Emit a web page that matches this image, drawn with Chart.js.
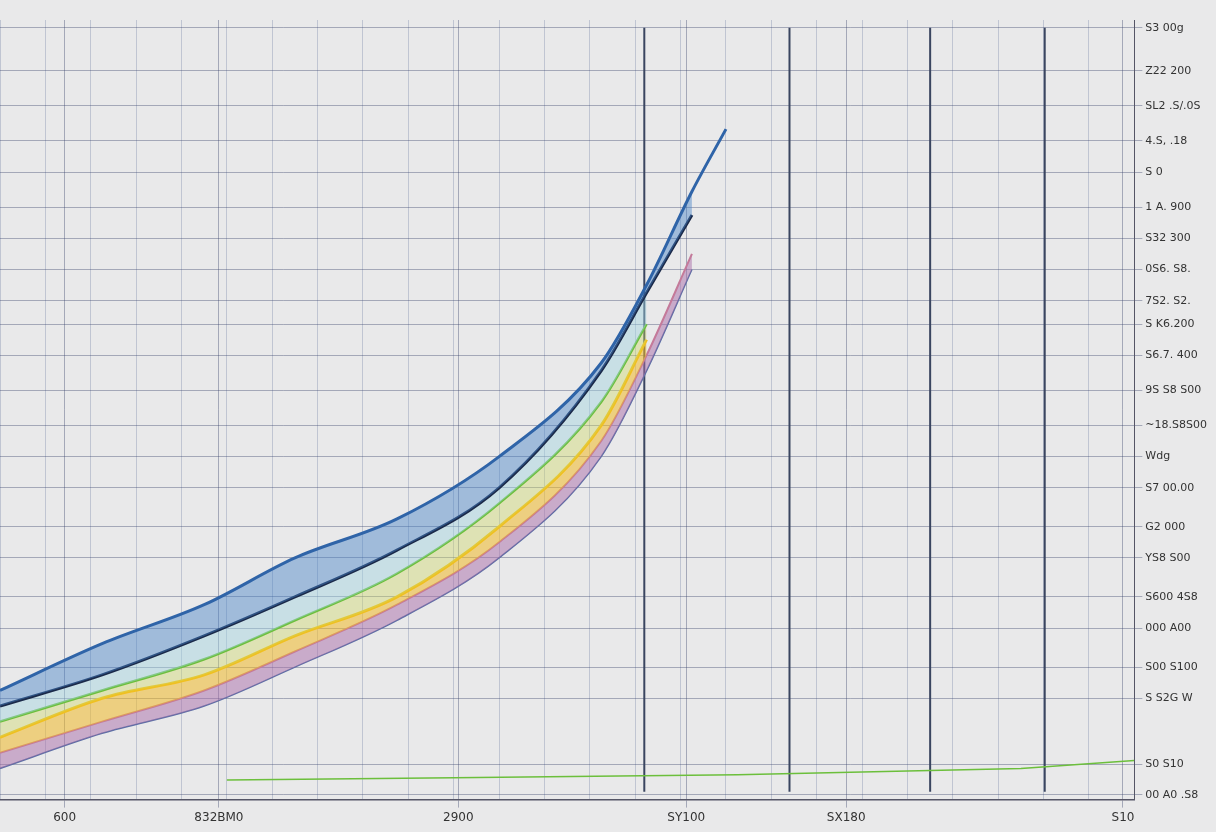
<!DOCTYPE html>
<html>
<head>
<meta charset="utf-8">
<script src="https://cdn.jsdelivr.net/npm/chart.js@4/dist/chart.umd.min.js"></script>
<style>
  html, body { margin: 0; padding: 0; background: #e9e9ea; }
  #wrap { width: 1216px; height: 832px; }
</style>
</head>
<body>
<div id="wrap"><canvas id="growthChart"></canvas></div>
<script>
// x positions of the curve samples
const xs = [0, 9, 18, 26, 35, 44, 53, 57, 61, 64];
const blueTop = [14, 20, 25, 31, 36, 44, 56, 66, 78, 86];
const darkLine = [12, 16, 21, 26, 32, 40, 55, 65, 75];
const greenLine = [10, 14, 18, 23, 29, 38, 51, 61];
const yellowLine = [8, 13, 16, 21, 26, 35, 48, 59];
const pinkLine = [6, 10, 14, 19, 25, 33, 46, 57, 70];
const lowerEdge = [4, 8.5, 12, 17, 23, 31, 44, 55, 68];

const greenBase = [[20, 2.5], [40, 2.8], [65, 3.2], [90, 4], [100, 5]];
const darkVerticals = [56.8, 69.6, 82, 92.1];

const xTickValues = [5.7, 19.3, 40.4, 60.5, 74.6, 99];
const xTickLabels = ["600", "832BM0", "2900", "SY100", "SX180", "S10"];

const yTickValues = [99, 93.5, 89, 84.5, 80.5, 76, 72, 68, 64, 61, 57, 52.5, 48, 44, 40, 35, 31, 26, 22, 17, 13, 4.5, 0.6];
const yTickLabels = ["S3 00g", "Z22 200", "SL2 .S/.0S", "4.S, .18", "S 0", "1 A. 900", "S32 300",
  "0S6. S8.", "7S2. S2.", "S K6.200", "S6.7. 400", "9S S8 S00", "~18.S8S00", "Wdg", "S7 00.00",
  "G2 000", "YS8 S00", "S600 4S8", "000 A00", "S00 S100", "S S2G W", "S0 S10", "00 A0 .S8"];

const pts = (vals) => vals.map((v, i) => ({ x: xs[i], y: v }));

function band(label, data, border, fillColor, width) {
  return {
    label, data: pts(data), borderColor: border, borderWidth: width,
    backgroundColor: fillColor, fill: fillColor ? "+1" : false,
    cubicInterpolationMode: "monotone", pointRadius: 0,
  };
}

const datasets = [
  band("blue", blueTop, "#2f64a8", "rgba(70,130,200,0.45)", 3),
  band("dark", darkLine, "#1b2a4a", "rgba(160,210,225,0.45)", 3),
  band("green", greenLine, "#6cbf3c", "rgba(205,215,100,0.4)", 2.5),
  band("yellow", yellowLine, "#f0c020", "rgba(240,185,40,0.55)", 3),
  band("pink", pinkLine, "#c47a9a", "rgba(170,110,170,0.5)", 2),
  band("lower", lowerEdge, "#5a6fa5", null, 1.5),
  {
    label: "base", data: greenBase.map(([x, y]) => ({ x, y })),
    borderColor: "#6cbf3c", borderWidth: 1.5, pointRadius: 0, fill: false,
  },
];
darkVerticals.forEach((x) => {
  datasets.push({
    label: "v" + x, data: [{ x, y: 1 }, { x, y: 99 }],
    borderColor: "#3a4560", borderWidth: 2, pointRadius: 0, fill: false,
  });
});

new Chart(document.getElementById("growthChart"), {
  type: "line",
  data: { datasets },
  options: {
    responsive: true,
    maintainAspectRatio: false,
    animation: false,
    layout: { padding: { top: 20, right: 6, bottom: 4, left: 0 } },
    plugins: { legend: { display: false }, tooltip: { enabled: false } },
    scales: {
      x: {
        type: "linear", min: 0, max: 100,
        afterBuildTicks: (axis) => { axis.ticks = xTickValues.map((v) => ({ value: v })); },
        ticks: {
          callback: (v) => xTickLabels[xTickValues.indexOf(v)] || "",
          color: "#333", font: { family: "DejaVu Sans", size: 12 }, autoSkip: false, maxRotation: 0,
        },
        grid: { color: "rgba(60,70,110,0.4)", lineWidth: 1 },
        border: { color: "#556", width: 1.5 },
      },
      xg: {
        type: "linear", min: 0, max: 100, display: true, position: "bottom",
        ticks: { display: false, stepSize: 4 },
        grid: { color: "rgba(70,90,140,0.25)", drawTicks: false },
        border: { display: false },
      },
      y: {
        type: "linear", min: 0, max: 100, position: "right",
        afterBuildTicks: (axis) => { axis.ticks = yTickValues.map((v) => ({ value: v })); },
        ticks: {
          callback: (v) => yTickLabels[yTickValues.indexOf(v)] || "",
          color: "#333", font: { family: "DejaVu Sans", size: 11 }, autoSkip: false,
        },
        grid: { color: "rgba(60,70,110,0.4)", lineWidth: 1 },
        border: { color: "#556" },
      },
    },
  },
});
</script>
</body>
</html>
